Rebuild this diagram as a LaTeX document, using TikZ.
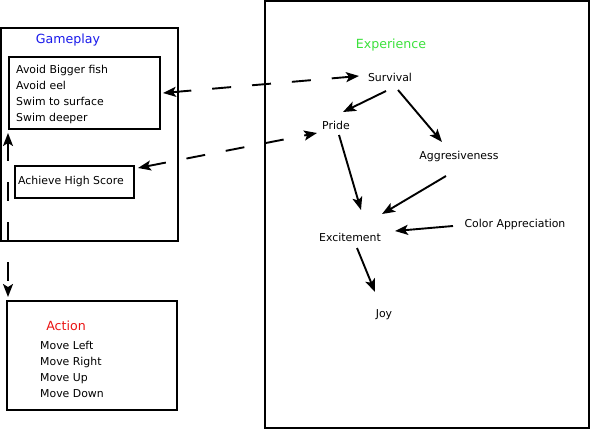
\documentclass[tikz,border=0pt]{standalone}
\usepackage{fontspec}
\setmainfont{DejaVu Sans}
\usetikzlibrary{arrows.meta,calc}
\definecolor{gpblue}{RGB}{25,25,235}
\definecolor{expgreen}{RGB}{60,225,60}
\definecolor{actred}{RGB}{235,20,20}
\tikzset{
  frame/.style={draw=black, line width=2pt, inner sep=0pt, fill=none},
  lbl/.style={inner sep=0pt, anchor=base, font=\fontsize{10.9}{16}\selectfont},
  lbll/.style={inner sep=0pt, anchor=base west, font=\fontsize{10.9}{16}\selectfont},
  ttl/.style={inner sep=0pt, anchor=base, font=\fontsize{12.6}{16}\selectfont},
  tip/.style={},
  conn/.style={line width=1.9pt, -{Stealth[length=13pt,width=10pt,inset=3pt]}},
  dconn/.style={line width=1.9pt, dash pattern=on 19pt off 21pt,
     {Stealth[length=13pt,width=10pt,inset=3pt]}-{Stealth[length=13pt,width=10pt,inset=3pt]}},
}
\begin{document}
\begin{tikzpicture}[x=1pt,y=-1pt]
\useasboundingbox[fill=white] (0,0) rectangle (593,434);
% boxes
\node[frame, minimum width=177pt, minimum height=213pt] (gbox) at (89.5,134.5) {};
\node[frame, minimum width=324pt, minimum height=427pt] (ebox) at (427,214.5) {};
\node[frame, minimum width=151pt, minimum height=72pt] (box1) at (84.5,93) {};
\node[frame, minimum width=119pt, minimum height=32pt] (box2) at (74.5,182) {};
\node[frame, minimum width=170pt, minimum height=109pt] (abox) at (92,355.5) {};
% titles
\node[ttl, text=gpblue] (tgame) at (68,43) {Gameplay};
\node[ttl, text=expgreen] (texp) at (391,48) {Experience};
\node[ttl, text=actred] (tact) at (66,330) {Action};
% gameplay texts
\node[lbll] (g1) at (16,73) {Avoid Bigger fish};
\node[lbll] (g2) at (16,89) {Avoid eel};
\node[lbll] (g3) at (16,105) {Swim to surface};
\node[lbll] (g4) at (16,121) {Swim deeper};
\node[lbll] (g5) at (18,184) {Achieve High Score};
% action texts
\node[lbll] (m1) at (40,349) {Move Left};
\node[lbll] (m2) at (40,365) {Move Right};
\node[lbll] (m3) at (40,381) {Move Up};
\node[lbll] (m4) at (40,397) {Move Down};
% experience nodes
\node[lbl] (surv) at (390,81) {Survival};
\node[lbl] (pride) at (336,129) {Pride};
\node[lbl] (aggr) at (459,159) {Aggresiveness};
\node[lbl] (exc) at (350,241) {Excitement};
\node[lbl] (col) at (515,227) {Color Appreciation};
\node[lbl] (joy) at (384,317) {Joy};
% solid connectors
\draw[conn] ($(surv.base)+(-4,10)$) -- ($(pride.base)+(7,-17)$);
\draw[conn] ($(surv.base)+(8,9)$) -- ($(aggr.base)+(-17,-17)$);
\draw[conn] ($(pride.base)+(3,6)$) -- ($(exc.base)+(11,-31)$);
\draw[conn] ($(aggr.base)+(-13,17)$) -- ($(exc.base)+(32,-27)$);
\draw[conn] ($(col.base)+(-62,-1)$) -- ($(exc.base)+(45,-10)$);
\draw[conn] ($(exc.base)+(7,7)$) -- ($(joy.base)+(-9,-25)$);
% dashed connectors
\draw[dconn] ($(box1.east)+(2,0)$) -- ($(surv.base)+(-31,-5)$);
\draw[dconn] ($(box2.east)+(3,-14)$) -- ($(pride.base)+(-19,4)$);
\draw[dconn] ($(box1.south west)+(0,3)$) -- ($(abox.north west)+(2,-3)$);
\end{tikzpicture}
\end{document}
